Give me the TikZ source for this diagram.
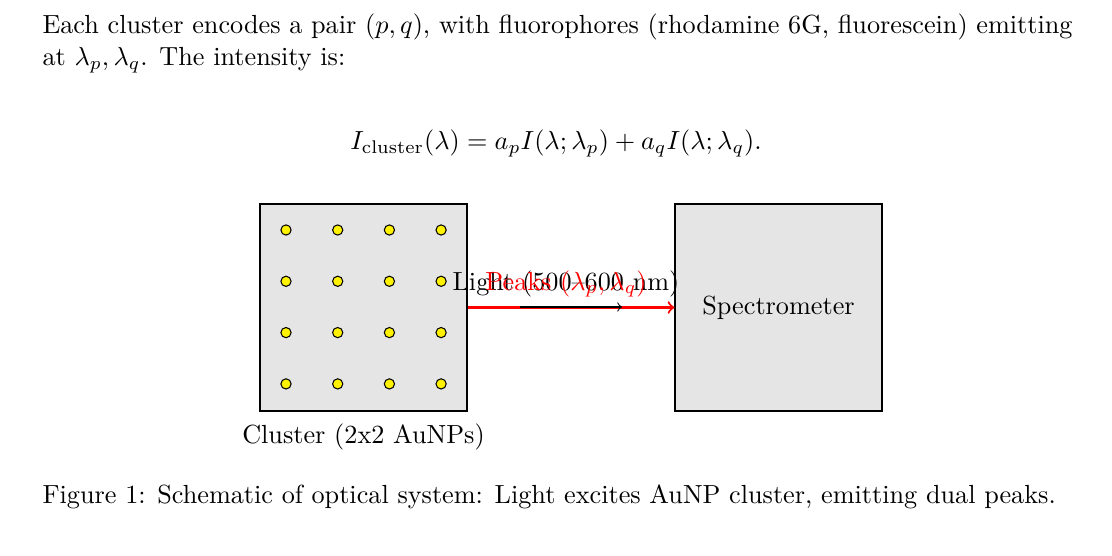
\documentclass[tikz,border=0pt]{standalone}
\usepackage{amsmath}
\usetikzlibrary{positioning}
\tikzset{
  box/.style={draw,fill=gray!20,minimum width=207*0.3815pt,minimum height=207*0.3815pt,inner sep=0pt},
  np/.style={draw,circle,fill=yellow,minimum size=3.9pt,inner sep=0pt},
  txt/.style={anchor=base west,inner sep=0pt}
}
\begin{document}
\begin{tikzpicture}[x=0.3815pt,y=-0.3815pt]
\useasboundingbox (0,0) rectangle (1112,556);
\node[txt] (l1) at (42,34) {Each cluster encodes a pair $(p,q)$, with fluorophores (rhodamine 6G, fluorescein) emitting};
\node[txt] (l2) at (42,66) {at $\lambda_p,\lambda_q$. The intensity is:};
\node[anchor=base,inner sep=0pt] (eq) at (556,150) {$I_{\text{cluster}}(\lambda)=a_pI(\lambda;\lambda_p)+a_qI(\lambda;\lambda_q).$};
\node[box] (cluster) at (363.5,307.5) {};
\foreach \i in {1,...,4}
  \foreach \j in {1,...,4}
    \node[np] (n\i\j) at ({286+51.7*(\i-1)},{230+51.3*(\j-1)}) {};
\node[below=1pt of cluster] (clab) {Cluster (2x2 AuNPs)};
\node[box] (spec) at (778.5,307.5) {Spectrometer};
\coordinate (la) at (520,307);
\coordinate (lb) at (622,307);
\draw[->,red,thick] (cluster.east) -- (spec.west);
\draw[->] (la) -- (lb);
\node[anchor=base] (light) at (566,290) {Light (500--600 nm)};
\node[red,anchor=base] (peaks) at (566,290) {Peaks $(\lambda_p,\lambda_q)$};
\node[txt] (cap) at (42,503) {Figure 1: Schematic of optical system: Light excites AuNP cluster, emitting dual peaks.};
\end{tikzpicture}
\end{document}
